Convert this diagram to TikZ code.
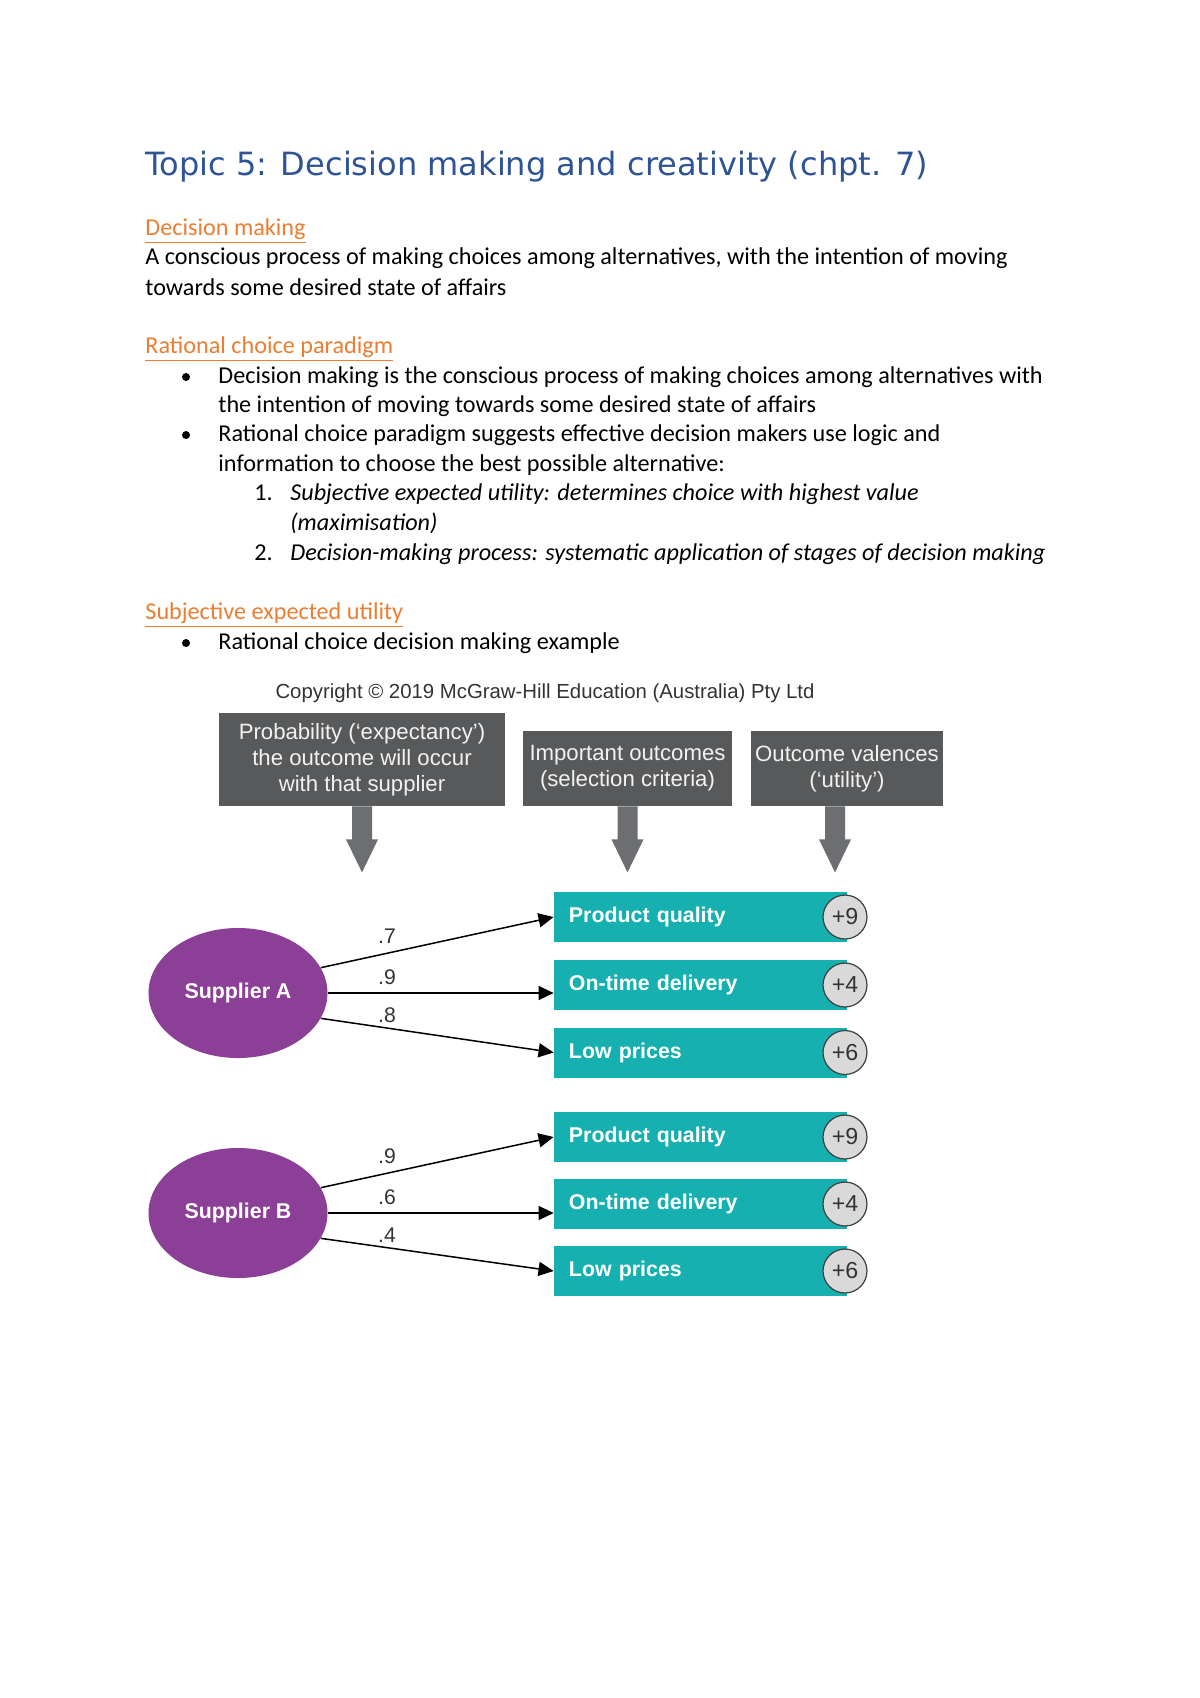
\documentclass[tikz,border=0pt]{standalone}
\usepackage{fontspec}
\setmainfont{Carlito}
\newfontfamily\titlefont{DejaVu Sans}
\newfontfamily\diafont{Liberation Sans}
\usetikzlibrary{arrows.meta,shapes.geometric}
\definecolor{titleblue}{HTML}{2F5496}
\definecolor{headorange}{HTML}{ED7D31}
\definecolor{boxgray}{HTML}{58595B}
\definecolor{arrowgray}{HTML}{6D6E71}
\definecolor{suppurple}{HTML}{8C3F97}
\definecolor{teal}{HTML}{15B0AF}
\definecolor{circfill}{HTML}{D9D9D9}
\definecolor{circdraw}{HTML}{404040}
\definecolor{labgray}{HTML}{333333}
\tikzset{
  body/.style={anchor=base west, inner sep=0pt, font=\fontsize{12}{14}\selectfont},
  head/.style={body, text=headorange},
  itemtext/.style={body, font=\fontsize{12}{14}\selectfont\itshape},
  bulletdot/.style={fill=black},
  topbox/.style={fill=boxgray, draw=none, inner sep=0pt, align=center, text=white!90!gray,
    font=\diafont\fontsize{11}{13}\selectfont},
  blockarrow/.style={fill=arrowgray, draw=none},
  supplier/.style={ellipse, fill=suppurple, draw=none, minimum width=88.8pt, minimum height=64.5pt,
    inner sep=0pt, text=white, font=\diafont\bfseries\fontsize{10.6}{12}\selectfont},
  outcome/.style={fill=teal, draw=none, minimum height=24.8pt, inner ysep=0pt, inner xsep=7.4pt,
    text width=130.5pt, align=left, text=white, font=\diafont\bfseries\fontsize{10.6}{12}\selectfont},
  valence/.style={circle, fill=circfill, draw=circdraw, line width=0.6pt, minimum size=21.8pt,
    inner sep=0pt, text=labgray, font=\diafont\fontsize{11.5}{13}\selectfont},
  link/.style={draw=black, line width=0.75pt, -{Triangle[length=7.5pt,width=7pt]}},
  problabel/.style={inner sep=0pt, text=labgray, font=\diafont\fontsize{10.5}{12}\selectfont}
}
\begin{document}
\begin{tikzpicture}[x=0.49606pt,y=-0.49606pt]
\useasboundingbox[fill=white] (0,0) rectangle (1200,1698);

% ---- text ----
\node[body, text=titleblue, font=\titlefont\fontsize{15.9}{19}\selectfont] (title) at (145,175) {Topic 5: Decision making and creativity (chpt. 7)};

\node[head] (h1) at (145,235) {\underline{Decision making}};
\node[body] (t1) at (145,264) {A conscious process of making choices among alternatives, with the intention of moving};
\node[body] (t2) at (145,295) {towards some desired state of affairs};

\node[head] (h2) at (145,353) {\underline{Rational choice paradigm}};
\fill[bulletdot] (186,377) circle [radius=4];
\node[body] (b1a) at (218,383) {Decision making is the conscious process of making choices among alternatives with};
\node[body] (b1b) at (218,412) {the intention of moving towards some desired state of affairs};
\fill[bulletdot] (186,435) circle [radius=4];
\node[body] (b2a) at (218,441) {Rational choice paradigm suggests effective decision makers use logic and};
\node[body] (b2b) at (218,471) {information to choose the best possible alternative:};
\node[body] (n1) at (254,500) {1.};
\node[itemtext] (i1a) at (290,500) {Subjective expected utility: determines choice with highest value};
\node[itemtext] (i1b) at (290,530) {(maximisation)};
\node[body] (n2) at (254,560) {2.};
\node[itemtext] (i2) at (290,560) {Decision-making process: systematic application of stages of decision making};

\node[head] (h3) at (145,619) {\underline{Subjective expected utility}};
\fill[bulletdot] (186,643) circle [radius=4];
\node[body] (b3) at (218,649) {Rational choice decision making example};

% ---- diagram ----
\node[inner sep=0pt, text=labgray, font=\diafont\fontsize{10.1}{12}\selectfont] (copy) at (545,693) {Copyright \textcopyright\ 2019 McGraw-Hill Education (Australia) Pty Ltd};

\node[topbox, minimum width=141.9pt, minimum height=46.1pt] (bx1) at (362,759.5) {Probability (‘expectancy’)\\the outcome will occur\\with that supplier};
\node[topbox, minimum width=103.7pt, minimum height=37.2pt] (bx2) at (627.5,768.5) {Important outcomes\\(selection criteria)};
\node[topbox, minimum width=95.2pt, minimum height=37.2pt] (bx3) at (847,768.5) {Outcome valences\\(‘utility’)};

\foreach \b/\dx in {bx1/0,bx2/0,bx3/-12}{
  \fill[blockarrow] (\b.south) ++(\dx,0) ++(-10,0) -- ++(0,33) -- ++(-6,0) -- ++(16,33) -- ++(16,-33) -- ++(-6,0) -- ++(0,-33) -- cycle;
}

% Supplier A
\node[supplier] (sA) at (238,993) {Supplier A};
\node[outcome] (pqA) at (700.5,917) {Product quality};
\node[outcome] (otA) at (700.5,985) {On-time delivery};
\node[outcome] (lpA) at (700.5,1052.5) {Low prices};
\node[valence] (vpqA) at (845,917) {+9};
\node[valence] (votA) at (845,985) {+4};
\node[valence] (vlpA) at (845,1052.5) {+6};
\draw[link] (sA.17) -- (pqA.west);
\draw[link] (sA.east) -- (sA.east -| otA.west);
\draw[link] (sA.-17) -- (lpA.west);
\node[problabel] (pA1) at (387,936) {.7};
\node[problabel] (pA2) at (387,977) {.9};
\node[problabel] (pA3) at (387,1015) {.8};

% Supplier B
\node[supplier] (sB) at (238,1213) {Supplier B};
\node[outcome] (pqB) at (700.5,1137) {Product quality};
\node[outcome] (otB) at (700.5,1204) {On-time delivery};
\node[outcome] (lpB) at (700.5,1271) {Low prices};
\node[valence] (vpqB) at (845,1137) {+9};
\node[valence] (votB) at (845,1204) {+4};
\node[valence] (vlpB) at (845,1271) {+6};
\draw[link] (sB.17) -- (pqB.west);
\draw[link] (sB.east) -- (sB.east -| otB.west);
\draw[link] (sB.-17) -- (lpB.west);
\node[problabel] (pB1) at (387,1156) {.9};
\node[problabel] (pB2) at (387,1197) {.6};
\node[problabel] (pB3) at (387,1235) {.4};
\end{tikzpicture}
\end{document}
